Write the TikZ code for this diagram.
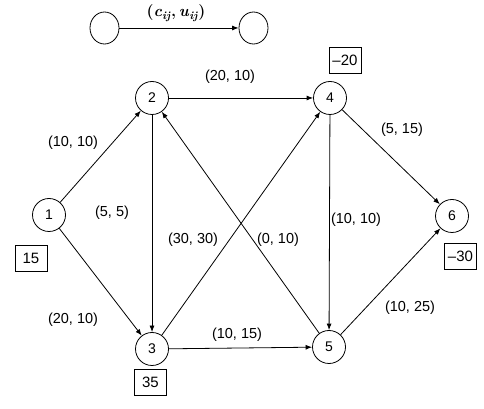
\documentclass[tikz,border=0pt]{standalone}
\usepackage{fontspec}
\setmainfont{Liberation Sans}
\newfontfamily\lmfam{Latin Modern Roman}
\usetikzlibrary{arrows.meta,shapes.geometric}
\begin{document}
\begin{tikzpicture}[x=1pt,y=1pt,
  vtx/.style={circle,draw,line width=0.8pt,minimum size=33pt,inner sep=0pt,font={\fontsize{14}{16}\selectfont}},
  leg/.style={ellipse,draw,line width=0.8pt,minimum width=29pt,minimum height=32pt,inner sep=0pt},
  legfont/.style={font={\fontsize{16}{18}\selectfont\lmfam\bfseries}},
  supbox/.style={draw,line width=0.9pt,minimum width=32pt,minimum height=26pt,inner sep=0pt,font={\fontsize{15}{17}\selectfont}},
  lbl/.style={font={\fontsize{14.5}{16}\selectfont}},
  arc/.style={-{Latex[length=6.5pt,width=5pt]},line width=0.8pt}]
\useasboundingbox (0,0) rectangle (484,409);
% legend
\node[leg] (la) at (104.5,381) {};
\node[leg] (lb) at (253.5,381) {};
\draw[arc] (la) -- (lb);
\node[legfont] (legl) at (176,396) {(\textit{c}\textsubscript{\textit{ij}},\,\textit{u}\textsubscript{\textit{ij}})};
% nodes
\node[vtx] (n1) at (49,194) {1};
\node[vtx] (n2) at (152,311) {2};
\node[vtx] (n3) at (152,60) {3};
\node[vtx] (n4) at (330,311) {4};
\node[vtx] (n5) at (329,62) {5};
\node[vtx] (n6) at (452,193) {6};
% supplies
\node[supbox] (b1) at (31,151) {15};
\node[supbox] (b3) at (150.5,27) {35};
\node[supbox] (b4) at (345,349) {–20};
\node[supbox] (b6) at (460.5,153) {–30};
% arcs
\draw[arc] (n1) -- (n2);
\draw[arc] (n1) -- (n3);
\draw[arc] (n2) -- (n4);
\draw[arc] (n2) -- (n3);
\draw[arc] (n3) -- (n4);
\draw[arc] (n5) -- (n2);
\draw[arc] (n3) -- (n5);
\draw[arc] (n4) -- (n5);
\draw[arc] (n4) -- (n6);
\draw[arc] (n5) -- (n6);
% labels
\node[lbl] (l24) at (230,332) {(20, 10)};
\node[lbl] (l12) at (73,266) {(10, 10)};
\node[lbl] (l23) at (112,196) {(5, 5)};
\node[lbl] (l34) at (193,169) {(30, 30)};
\node[lbl] (l52) at (278,169) {(0, 10)};
\node[lbl] (l45) at (356,189) {(10, 10)};
\node[lbl] (l46) at (402,279) {(5, 15)};
\node[lbl] (l13) at (73,89) {(20, 10)};
\node[lbl] (l35) at (237,74) {(10, 15)};
\node[lbl] (l56) at (410,101) {(10, 25)};
\end{tikzpicture}
\end{document}
